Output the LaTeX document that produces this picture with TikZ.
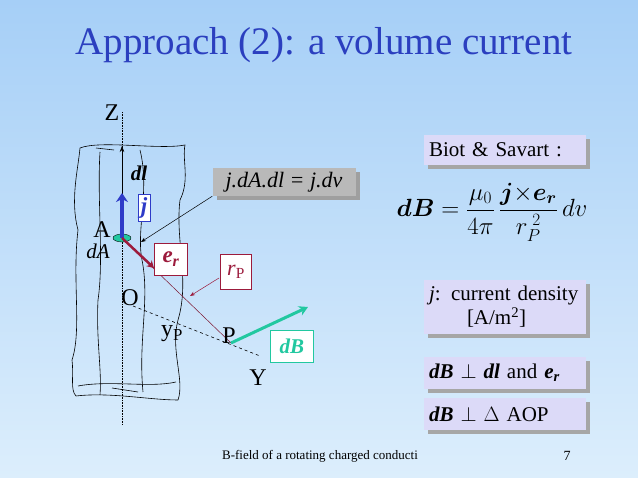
\documentclass[tikz,border=0pt]{standalone}
\usepackage{amsmath,amssymb,bm}
\usepackage{fontspec}
\setmainfont{Liberation Serif}
\usetikzlibrary{arrows.meta,shadows}
\definecolor{bgtop}{HTML}{A6CFF7}
\definecolor{bgbot}{HTML}{DCEEFC}
\definecolor{ttl}{HTML}{2B3FBF}
\definecolor{lav}{HTML}{DCDAF8}
\definecolor{jblue}{HTML}{2E3BC8}
\definecolor{ered}{HTML}{9C1B3C}
\definecolor{dbg}{HTML}{22C8A0}
\tikzset{
  infobox/.style={draw=none,fill=lav,text width=152pt,inner xsep=5pt,align=left,font=\fontsize{21}{24}\selectfont,
     drop shadow={shadow xshift=4pt,shadow yshift=-4pt,fill=gray!70,opacity=1}},
  lbl/.style={font=\fontsize{24}{26}\selectfont,inner sep=1pt},
  tagbox/.style={draw,fill=white,inner sep=3pt,font=\fontsize{23}{25}\selectfont\bfseries\itshape},
  wig/.style={black,line width=0.6pt}
}
\begin{document}
\begin{tikzpicture}[x=1pt,y=-1pt]
\shade[top color=bgtop,bottom color=bgbot] (0,0) rectangle (638,478);
\useasboundingbox (0,0) rectangle (638,478);
\node[text=ttl,font=\fontsize{39}{42}\selectfont] (title) at (324,45) {Approach (2): a volume current};
% cylinder
\draw[wig] (80,148) .. controls (100,140) and (160,150) .. (185,145) .. controls (182,160) and (190,180) .. (180,200)
  .. controls (175,240) and (190,280) .. (178,320) .. controls (170,350) and (185,380) .. (178,400);
\draw[wig] (80,148) .. controls (78,170) and (70,200) .. (78,230) .. controls (72,280) and (82,330) .. (72,360) .. controls (74,375) and (70,390) .. (76,396)
  .. controls (110,392) and (150,400) .. (178,400);
\draw[wig] (78,386) .. controls (110,380) and (150,388) .. (176,382);
\draw[wig] (100,152) .. controls (97,200) and (104,260) .. (98,300) .. controls (96,340) and (102,370) .. (100,395);
\draw[wig] (140,150) .. controls (150,190) and (136,230) .. (142,260) .. controls (150,300) and (138,340) .. (143,392);
\draw[wig] (96,148) -- (114,150);
\draw[wig] (112,388) -- (138,392);
% axis
\draw[densely dotted,line width=0.6pt] (122,112) -- (122,425);
\node[lbl] (Z) at (112,113) {Z};
\coordinate (A0) at (122,238);
\coordinate (top) at (122,146);
\coordinate (P) at (231,343);
\draw[-{Stealth[length=6pt]},line width=0.6pt] (A0) -- (top);
\node[lbl,font=\fontsize{21}{23}\selectfont\bfseries\itshape] (dl) at (139,173) {dl};
\draw[draw=black,fill=dbg] (122,238) ellipse (9 and 4);
\draw[-{Stealth[length=9pt,width=12pt]},jblue,line width=4pt] (A0) -- (122,193);
\node[tagbox,draw=jblue,text=jblue] (jb) at (144,208) {j};
\node[lbl] (A) at (102,230) {A};
\node[lbl,font=\fontsize{21}{23}\selectfont\itshape] (dA) at (98,251) {dA};
\draw[ered!80!black,line width=0.5pt] (A0) -- (P);
\draw[-{Stealth[length=7pt,width=8pt]},ered,line width=2.5pt] (A0) -- (154,268);
\node[tagbox,draw=ered,text=ered,minimum width=33pt,minimum height=32pt] (er) at (171,259) {e\textsubscript{r}};
\node[draw=ered,fill=white,inner sep=3pt,minimum width=31pt,minimum height=35pt,font=\fontsize{22}{24}\selectfont,text=ered] (rp) at (236,272) {\textit{r}\textsubscript{P}};
\draw[-{Stealth[length=5pt]},ered,line width=0.5pt] (219,278) -- (190,296);
\node[lbl] (O) at (130,298) {O};
\draw[dashed,line width=0.6pt] (133,306) -- (260,356);
\node[lbl] (yp) at (172,334) {y\textsubscript{P}};
\node[lbl] (Pl) at (229,336) {P};
\node[lbl] (Y) at (258,378) {Y};
\draw[-{Stealth[length=9pt,width=10pt]},dbg,line width=3pt] (P) -- (308,307);
\node[draw=dbg,fill=white,minimum width=43pt,minimum height=32pt,text=dbg,font=\fontsize{21}{23}\selectfont\bfseries\itshape] (dB) at (292,346) {dB};
\node[fill=gray!55,minimum width=143pt,minimum height=28pt,inner sep=2pt,font=\fontsize{22}{24}\selectfont\itshape,
  drop shadow={shadow xshift=4pt,shadow yshift=-4pt,fill=gray!75,opacity=1}] (eq) at (284,182) {j.dA.dl = j.dv};
\draw[-{Stealth[length=5pt]},line width=0.5pt] (eq.south west) -- (141,242);
% right panel
\node[infobox,minimum height=30pt] (bs) at (505,150) {Biot \& Savart :};
\node (formula) at (492,212) {\fontsize{24}{26}\selectfont $\bm{dB}=\dfrac{\mu_0}{4\pi}\,\dfrac{\bm{j}{\times}\bm{e_r}}{r_P^{\;2}}\,dv$};
\node[infobox,minimum height=54pt] (jc) at (505,307) {\textit{j}: current density\\\hspace*{38pt}[A/m\textsuperscript{2}]};
\node[infobox,minimum height=32pt] (p1) at (505,373) {\textbf{\textit{dB}} $\perp$ \textbf{\textit{dl}} and \textbf{\textit{e\textsubscript{r}}}};
\node[infobox,minimum height=32pt] (p2) at (505,414) {\textbf{\textit{dB}} $\perp$ $\Delta$ AOP};
\node[font=\fontsize{13}{15}\selectfont] (foot) at (320,456) {B-field of a rotating charged conducti};
\node[font=\fontsize{14}{16}\selectfont] (num) at (567,456) {7};
\end{tikzpicture}
\end{document}
